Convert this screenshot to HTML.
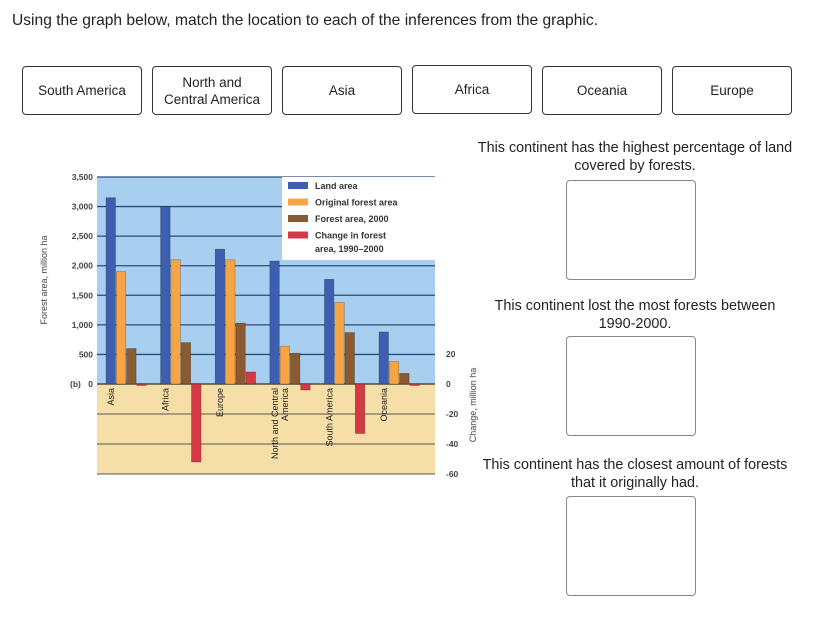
<!DOCTYPE html>
<html><head><meta charset="utf-8">
<style>
body{margin:0;width:839px;height:620px;background:#fff;font-family:"Liberation Sans",sans-serif;position:relative;overflow:hidden;color:#222}
.btn{position:absolute;top:66px;height:49px;width:120px;border:1px solid #333;border-radius:4px;box-sizing:border-box;display:flex;align-items:center;justify-content:center;text-align:center;font-size:13.5px;line-height:17px;background:#fff}
.q{position:absolute;left:465px;width:340px;text-align:center;font-size:14.4px;line-height:18px}
.box{position:absolute;left:566px;width:130px;height:100px;border:1px solid #888;border-radius:4px;box-sizing:border-box}
</style></head><body>
<div style="position:absolute;left:12px;top:12px;font-size:15.6px">Using the graph below, match the location to each of the inferences from the graphic.</div>
<div class="btn" style="left:22px">South America</div>
<div class="btn" style="left:152px">North and<br>Central America</div>
<div class="btn" style="left:282px">Asia</div>
<div class="btn" style="left:412px;top:65px">Africa</div>
<div class="btn" style="left:542px">Oceania</div>
<div class="btn" style="left:672px">Europe</div>

<div class="q" style="top:139px">This continent has the highest percentage of land<br>covered by forests.</div>
<div class="box" style="top:180px"></div>
<div class="q" style="top:297px">This continent lost the most forests between<br>1990-2000.</div>
<div class="box" style="top:336px"></div>
<div class="q" style="top:456px">This continent has the closest amount of forests<br>that it originally had.</div>
<div class="box" style="top:496px"></div>

<svg id="chart" width="839" height="620" style="position:absolute;left:0;top:0" font-family="Liberation Sans, sans-serif"></svg>
<script>
const categories=["Asia","Africa","Europe","North and Central|America","South America","Oceania"];
const landArea=[3150,3000,2280,2080,1770,880];
const originalForest=[1900,2100,2100,640,1380,380];
const forest2000=[600,700,1030,520,870,180];
const change=[-1,-52,8,-4,-33,-1];
const leftTicks=[0,500,1000,1500,2000,2500,3000,3500];
const rightTicks=[20,0,-20,-40,-60];

const svg=document.getElementById('chart');
const NS='http://www.w3.org/2000/svg';
const X0=97,X1=435,Y0=384,Ytop=177;
const y=v=>Y0-(v/3500)*(Y0-Ytop);
const yc=v=>Y0-v*1.5;
function mk(t,a){const e=document.createElementNS(NS,t);for(const k in a)e.setAttribute(k,a[k]);svg.appendChild(e);return e;}
let r;
r=mk('rect',{x:X0,y:Ytop,width:X1-X0,height:Y0-Ytop,fill:'#a9cff0'});

r=mk('rect',{x:X0,y:Y0,width:X1-X0,height:yc(-60)-Y0,fill:'#f6dfa6'});

leftTicks.forEach(v=>{
  if(v>0){const l=mk('line',{x1:X0,x2:X1,y1:y(v),y2:y(v),stroke:'#2b4a78','stroke-width':1.3});
  }
  const t=mk('text',{x:X0-4,y:y(v)+3,'text-anchor':'end','font-size':8.5,'font-weight':'bold',fill:'#444'});
  t.textContent=v.toLocaleString('en-US');
  
});
rightTicks.forEach(v=>{
  if(v<0){const l=mk('line',{x1:X0,x2:X1,y1:yc(v),y2:yc(v),stroke:'#555','stroke-width':1});
  }
  const t=mk('text',{x:446,y:yc(v)+3,'font-size':8.5,'font-weight':'bold',fill:'#444'});
  t.textContent=v;
  
});
let ax=mk('line',{x1:X0,x2:X1,y1:Y0,y2:Y0,stroke:'#333','stroke-width':1.2});

let b=mk('text',{x:70,y:Y0+3,'font-size':8.5,'font-weight':'bold',fill:'#444'});b.textContent='(b)';

const cols=['#3e5fb0','#f7a544','#8a5a30','#d43a45'];
const series=[landArea,originalForest,forest2000,change];
categories.forEach((c,i)=>{
  const gx=106+i*54.6;
  series.forEach((s,j)=>{
    const top=j===3?Math.min(yc(s[i]),Y0):y(s[i]);
    const bot=j===3?Math.max(yc(s[i]),Y0):Y0;
    const bar=mk('rect',{x:gx+j*10.3,y:top,width:9.5,height:Math.max(bot-top,1),fill:cols[j],stroke:'rgba(0,0,0,0.35)','stroke-width':0.6});
    
    
  });
  const lines=c.split('|');
  lines.forEach((ln,k)=>{
    const tx=gx+5+k*10, ty=Y0+4;
    const t=mk('text',{x:tx,y:ty,'font-size':9,fill:'#222','text-anchor':'end',transform:`rotate(-90 ${tx} ${ty})`,dy:3});
    t.textContent=ln;
    
  });
});
let lb=mk('rect',{x:282,y:177,width:153,height:83,fill:'#fff'});

const legend=['Land area','Original forest area','Forest area, 2000','Change in forest'];
legend.forEach((n,j)=>{
  const ly=186+j*16.5;
  const sw=mk('rect',{x:288,y:ly-4,width:20,height:7,fill:cols[j]});
  
  const t=mk('text',{x:315,y:ly+3,'font-size':9,'font-weight':'bold',fill:'#333'});t.textContent=n;
  
});
let t2=mk('text',{x:315,y:252,'font-size':9,'font-weight':'bold',fill:'#333'});t2.textContent='area, 1990–2000';

let yt=mk('text',{x:47,y:280,'font-size':9,fill:'#444','text-anchor':'middle',transform:'rotate(-90 47 280)'});
yt.textContent='Forest area, million ha';

let yt2=mk('text',{x:476,y:405,'font-size':9,fill:'#444','text-anchor':'middle',transform:'rotate(-90 476 405)'});
yt2.textContent='Change, million ha';

</script>
</body></html>
